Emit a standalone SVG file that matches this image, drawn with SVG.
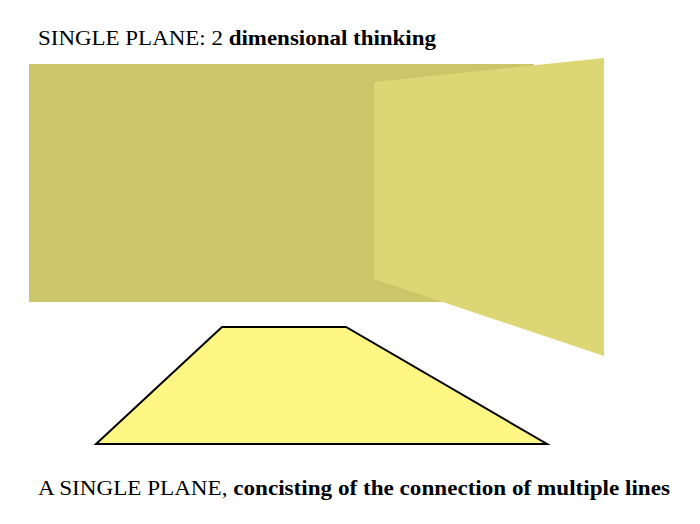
<svg xmlns="http://www.w3.org/2000/svg" width="700" height="524" viewBox="0 0 700 524">
<style>
.t{font-family:"Liberation Serif","Times New Roman",serif;fill:#000;}
.lc{font-weight:bold;}
</style>
<rect width="700" height="524" fill="#ffffff"/>
<g id="back-plane">
<rect x="29" y="64" width="505" height="238" fill="#CCC66A"/>
</g>
<g id="side-plane">
<polygon points="374,82 604,58 604,356 374,279" fill="#DDD674"/>
</g>
<g id="trapezoid">
<polygon points="222,327 346,327 547,444 96,444" fill="#FFF784" stroke="#000" stroke-width="2" stroke-linejoin="miter"/>
</g>
<g id="title">
<text class="t" x="38" y="45" font-size="20" textLength="398" lengthAdjust="spacingAndGlyphs">SINGLE PLANE: 2 <tspan class="lc">dimensional thinking</tspan></text>
</g>
<g id="caption">
<text class="t" x="38" y="495" font-size="20" textLength="632" lengthAdjust="spacingAndGlyphs">A SINGLE PLANE, <tspan class="lc">concisting of the connection of multiple lines</tspan></text>
</g>
</svg>
